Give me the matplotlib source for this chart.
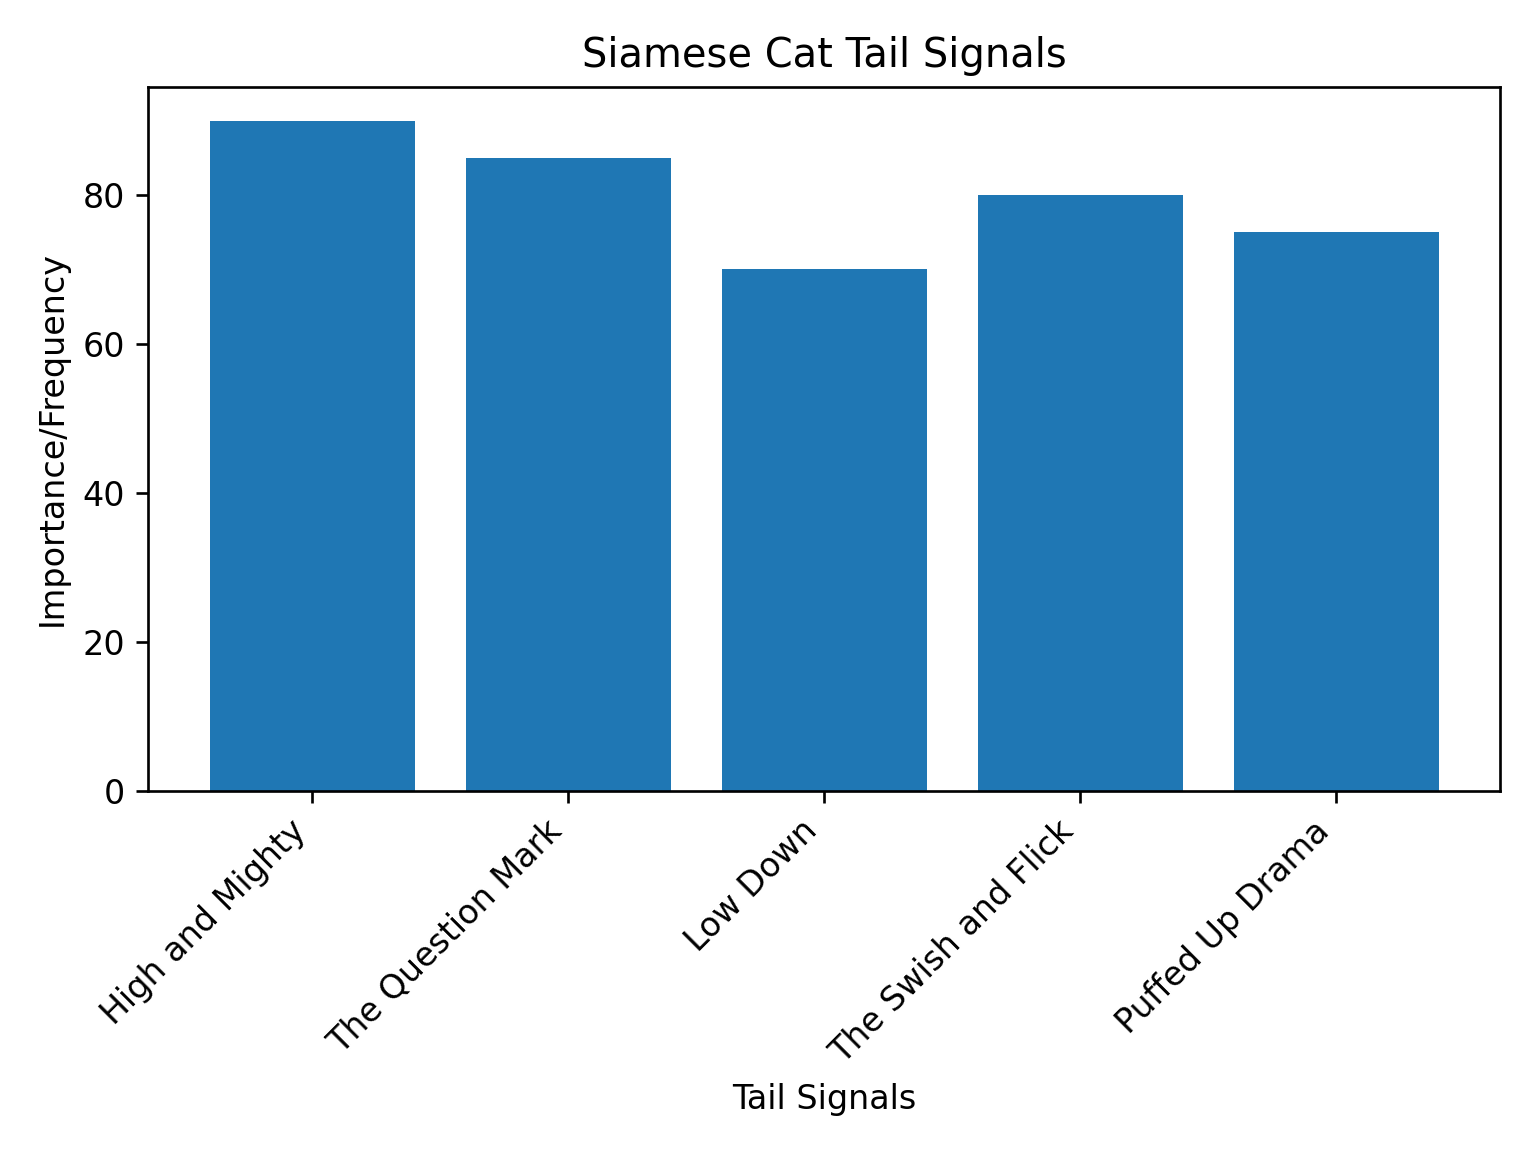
import matplotlib
matplotlib.use("Agg")
import matplotlib.pyplot as plt

categories = ["High and Mighty", "The Question Mark", "Low Down", "The Swish and Flick", "Puffed Up Drama"]
values = [90, 85, 70, 80, 75]

fig, ax = plt.subplots(figsize=(6.4, 4.8), dpi=240)
ax.bar(categories, values, color="#1f77b4")
ax.set_title("Siamese Cat Tail Signals")
ax.set_xlabel("Tail Signals")
ax.set_ylabel("Importance/Frequency")
plt.xticks(rotation=45, ha="right")
plt.tight_layout()
fig.savefig("out.png", dpi=240)
